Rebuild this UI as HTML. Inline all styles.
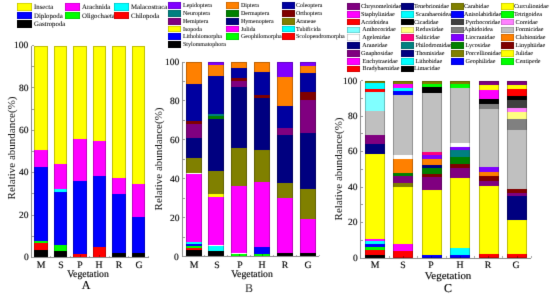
<!DOCTYPE html>
<html><head><meta charset="utf-8"><style>
html,body{margin:0;padding:0;background:#fff;}
body{width:550px;height:298px;position:relative;overflow:hidden;font-family:"Liberation Serif",serif;color:#000;}
.a{position:absolute;}
.bar{position:absolute;box-sizing:border-box;}
.seg{position:absolute;left:0;right:0;}
.t{position:absolute;white-space:pre;line-height:1;will-change:transform;text-rendering:geometricPrecision;-webkit-text-stroke:0.15px #000;}
.yl{position:absolute;white-space:pre;line-height:1;color:#111;}
.lt{-webkit-text-stroke:0.05px #000;}
.sw{position:absolute;box-sizing:border-box;box-shadow:inset 0 0 0 0.6px rgba(0,0,0,0.3);}
</style></head><body><svg width="0" height="0" style="position:absolute"><defs><filter id="sf" x="0" y="0" width="550" height="298" filterUnits="userSpaceOnUse" color-interpolation-filters="sRGB"><feConvolveMatrix order="3" kernelMatrix="0 1 0 1 8 1 0 1 0" edgeMode="duplicate"/></filter></defs></svg><div id="w" style="position:absolute;left:0;top:0;width:550px;height:298px;background:#fff;filter:url(#sf)">

<div class="bar" style="left:34.2px;top:45.5px;width:13.6px;height:212px;">
<div class="seg" style="top:0px;height:104.7px;background:#FFFF00"></div>
<div class="seg" style="top:104.7px;height:16.8px;background:#FF00FF"></div>
<div class="seg" style="top:121.5px;height:74.2px;background:#0000FF"></div>
<div class="seg" style="top:195.7px;height:2.2px;background:#00FF00"></div>
<div class="seg" style="top:197.9px;height:7px;background:#FF0000"></div>
<div class="seg" style="top:204.9px;height:7.1px;background:#000000"></div>
</div>
<div class="a" style="left:34.2px;top:45.5px;width:13.6px;height:212px;box-sizing:border-box;border:0.6px solid rgba(0,0,0,0.25)"></div>
<div class="bar" style="left:53.72px;top:45.5px;width:13.6px;height:212px;">
<div class="seg" style="top:0px;height:118.3px;background:#FFFF00"></div>
<div class="seg" style="top:118.3px;height:25px;background:#FF00FF"></div>
<div class="seg" style="top:143.3px;height:3px;background:#00FFFF"></div>
<div class="seg" style="top:146.3px;height:53.2px;background:#0000FF"></div>
<div class="seg" style="top:199.5px;height:6px;background:#00FF00"></div>
<div class="seg" style="top:205.5px;height:6.5px;background:#000000"></div>
</div>
<div class="a" style="left:53.72px;top:45.5px;width:13.6px;height:212px;box-sizing:border-box;border:0.6px solid rgba(0,0,0,0.25)"></div>
<div class="bar" style="left:73.24px;top:45.5px;width:13.6px;height:212px;">
<div class="seg" style="top:0px;height:93.7px;background:#FFFF00"></div>
<div class="seg" style="top:93.7px;height:42px;background:#FF00FF"></div>
<div class="seg" style="top:135.7px;height:72.8px;background:#0000FF"></div>
<div class="seg" style="top:208.5px;height:3.5px;background:#FF0000"></div>
</div>
<div class="a" style="left:73.24px;top:45.5px;width:13.6px;height:212px;box-sizing:border-box;border:0.6px solid rgba(0,0,0,0.25)"></div>
<div class="bar" style="left:92.76px;top:45.5px;width:13.6px;height:212px;">
<div class="seg" style="top:0px;height:95.5px;background:#FFFF00"></div>
<div class="seg" style="top:95.5px;height:35.2px;background:#FF00FF"></div>
<div class="seg" style="top:130.7px;height:70.8px;background:#0000FF"></div>
<div class="seg" style="top:201.5px;height:10.5px;background:#FF0000"></div>
</div>
<div class="a" style="left:92.76px;top:45.5px;width:13.6px;height:212px;box-sizing:border-box;border:0.6px solid rgba(0,0,0,0.25)"></div>
<div class="bar" style="left:112.28px;top:45.5px;width:13.6px;height:212px;">
<div class="seg" style="top:0px;height:132px;background:#FFFF00"></div>
<div class="seg" style="top:132px;height:16px;background:#FF00FF"></div>
<div class="seg" style="top:148px;height:59.8px;background:#0000FF"></div>
<div class="seg" style="top:207.8px;height:4.2px;background:#000000"></div>
</div>
<div class="a" style="left:112.28px;top:45.5px;width:13.6px;height:212px;box-sizing:border-box;border:0.6px solid rgba(0,0,0,0.25)"></div>
<div class="bar" style="left:131.8px;top:45.5px;width:13.6px;height:212px;">
<div class="seg" style="top:0px;height:138.5px;background:#FFFF00"></div>
<div class="seg" style="top:138.5px;height:32.8px;background:#FF00FF"></div>
<div class="seg" style="top:171.3px;height:36.5px;background:#0000FF"></div>
<div class="seg" style="top:207.8px;height:4.2px;background:#000000"></div>
</div>
<div class="a" style="left:131.8px;top:45.5px;width:13.6px;height:212px;box-sizing:border-box;border:0.6px solid rgba(0,0,0,0.25)"></div>
<div class="bar" style="left:185.5px;top:62px;width:16px;height:194.7px;">
<div class="seg" style="top:0px;height:22px;background:#FF8000"></div>
<div class="seg" style="top:22px;height:37px;background:#0000A0"></div>
<div class="seg" style="top:59px;height:2.5px;background:#800000"></div>
<div class="seg" style="top:61.5px;height:14.7px;background:#800080"></div>
<div class="seg" style="top:76.2px;height:20px;background:#000080"></div>
<div class="seg" style="top:96.2px;height:15.3px;background:#808000"></div>
<div class="seg" style="top:111.5px;height:68px;background:#FF00FF"></div>
<div class="seg" style="top:179.5px;height:2px;background:#00FFFF"></div>
<div class="seg" style="top:181.5px;height:2.3px;background:#0000FF"></div>
<div class="seg" style="top:183.8px;height:2.2px;background:#00FF00"></div>
<div class="seg" style="top:186px;height:2.2px;background:#FF0000"></div>
<div class="seg" style="top:188.2px;height:6.5px;background:#000000"></div>
</div>
<div class="a" style="left:185.5px;top:62px;width:16px;height:194.7px;box-sizing:border-box;border:0.6px solid rgba(0,0,0,0.25)"></div>
<div class="bar" style="left:208.44px;top:62px;width:16px;height:194.7px;">
<div class="seg" style="top:0px;height:3px;background:#8000FF"></div>
<div class="seg" style="top:3px;height:11px;background:#FF8000"></div>
<div class="seg" style="top:14px;height:37.8px;background:#0000A0"></div>
<div class="seg" style="top:51.8px;height:2.4px;background:#008080"></div>
<div class="seg" style="top:54.2px;height:2.8px;background:#008000"></div>
<div class="seg" style="top:57px;height:51.8px;background:#000080"></div>
<div class="seg" style="top:108.8px;height:23px;background:#808000"></div>
<div class="seg" style="top:131.8px;height:3px;background:#FFFF00"></div>
<div class="seg" style="top:134.8px;height:48.7px;background:#FF00FF"></div>
<div class="seg" style="top:183.5px;height:5.3px;background:#00FFFF"></div>
<div class="seg" style="top:188.8px;height:5.9px;background:#000000"></div>
</div>
<div class="a" style="left:208.44px;top:62px;width:16px;height:194.7px;box-sizing:border-box;border:0.6px solid rgba(0,0,0,0.25)"></div>
<div class="bar" style="left:231.38px;top:62px;width:16px;height:194.7px;">
<div class="seg" style="top:0px;height:6px;background:#FF8000"></div>
<div class="seg" style="top:6px;height:10px;background:#0000A0"></div>
<div class="seg" style="top:16px;height:3px;background:#800000"></div>
<div class="seg" style="top:19px;height:6.2px;background:#800080"></div>
<div class="seg" style="top:25.2px;height:60.8px;background:#000080"></div>
<div class="seg" style="top:86px;height:38.2px;background:#808000"></div>
<div class="seg" style="top:124.2px;height:67.3px;background:#FF00FF"></div>
<div class="seg" style="top:191.5px;height:3.2px;background:#00FF00"></div>
</div>
<div class="a" style="left:231.38px;top:62px;width:16px;height:194.7px;box-sizing:border-box;border:0.6px solid rgba(0,0,0,0.25)"></div>
<div class="bar" style="left:254.32px;top:62px;width:16px;height:194.7px;">
<div class="seg" style="top:0px;height:9.5px;background:#FF8000"></div>
<div class="seg" style="top:9.5px;height:23px;background:#0000A0"></div>
<div class="seg" style="top:32.5px;height:3px;background:#800000"></div>
<div class="seg" style="top:35.5px;height:52px;background:#000080"></div>
<div class="seg" style="top:87.5px;height:32.3px;background:#808000"></div>
<div class="seg" style="top:119.8px;height:65.2px;background:#FF00FF"></div>
<div class="seg" style="top:185px;height:6.5px;background:#0000FF"></div>
<div class="seg" style="top:191.5px;height:3.2px;background:#00FF00"></div>
</div>
<div class="a" style="left:254.32px;top:62px;width:16px;height:194.7px;box-sizing:border-box;border:0.6px solid rgba(0,0,0,0.25)"></div>
<div class="bar" style="left:277.26px;top:62px;width:16px;height:194.7px;">
<div class="seg" style="top:0px;height:14.8px;background:#8000FF"></div>
<div class="seg" style="top:14.8px;height:29px;background:#FF8000"></div>
<div class="seg" style="top:43.8px;height:22.4px;background:#0000A0"></div>
<div class="seg" style="top:66.2px;height:7px;background:#800080"></div>
<div class="seg" style="top:73.2px;height:48px;background:#000080"></div>
<div class="seg" style="top:121.2px;height:14.6px;background:#808000"></div>
<div class="seg" style="top:135.8px;height:55.4px;background:#FF00FF"></div>
<div class="seg" style="top:191.2px;height:3.5px;background:#000000"></div>
</div>
<div class="a" style="left:277.26px;top:62px;width:16px;height:194.7px;box-sizing:border-box;border:0.6px solid rgba(0,0,0,0.25)"></div>
<div class="bar" style="left:300.2px;top:62px;width:16px;height:194.7px;">
<div class="seg" style="top:0px;height:3.8px;background:#8000FF"></div>
<div class="seg" style="top:3.8px;height:7.4px;background:#FF8000"></div>
<div class="seg" style="top:11.2px;height:18.8px;background:#0000A0"></div>
<div class="seg" style="top:30px;height:7.5px;background:#800000"></div>
<div class="seg" style="top:37.5px;height:33.7px;background:#800080"></div>
<div class="seg" style="top:71.2px;height:56px;background:#000080"></div>
<div class="seg" style="top:127.2px;height:30px;background:#808000"></div>
<div class="seg" style="top:157.2px;height:34px;background:#FF00FF"></div>
<div class="seg" style="top:191.2px;height:3.5px;background:#000000"></div>
</div>
<div class="a" style="left:300.2px;top:62px;width:16px;height:194.7px;box-sizing:border-box;border:0.6px solid rgba(0,0,0,0.25)"></div>
<div class="bar" style="left:365px;top:80.8px;width:20px;height:177px;">
<div class="seg" style="top:0px;height:2.7px;background:#808000"></div>
<div class="seg" style="top:2.7px;height:5.5px;background:#00FFFF"></div>
<div class="seg" style="top:8.2px;height:2.8px;background:#FF0000"></div>
<div class="seg" style="top:11px;height:19.2px;background:#80FFFF"></div>
<div class="seg" style="top:30.2px;height:24px;background:#C0C0C0"></div>
<div class="seg" style="top:54.2px;height:8.7px;background:#800080"></div>
<div class="seg" style="top:62.9px;height:10.8px;background:#000080"></div>
<div class="seg" style="top:73.7px;height:84.5px;background:#FFFF00"></div>
<div class="seg" style="top:158.2px;height:2.5px;background:#FF00FF"></div>
<div class="seg" style="top:160.7px;height:3px;background:#00FFFF"></div>
<div class="seg" style="top:163.7px;height:2.7px;background:#0000FF"></div>
<div class="seg" style="top:166.4px;height:2.8px;background:#00FF00"></div>
<div class="seg" style="top:169.2px;height:5.5px;background:#FF0000"></div>
<div class="seg" style="top:174.7px;height:2.3px;background:#000000"></div>
</div>
<div class="a" style="left:365px;top:80.8px;width:20px;height:177px;box-sizing:border-box;border:0.6px solid rgba(0,0,0,0.25)"></div>
<div class="bar" style="left:393.4px;top:80.8px;width:20px;height:177px;">
<div class="seg" style="top:0px;height:3.4px;background:#808000"></div>
<div class="seg" style="top:3.4px;height:3.5px;background:#FF00FF"></div>
<div class="seg" style="top:6.9px;height:3.3px;background:#00FFFF"></div>
<div class="seg" style="top:10.2px;height:3.8px;background:#0000FF"></div>
<div class="seg" style="top:14px;height:60.4px;background:#C0C0C0"></div>
<div class="seg" style="top:74.4px;height:3.8px;background:#FFFFFF"></div>
<div class="seg" style="top:78.2px;height:14px;background:#FF8000"></div>
<div class="seg" style="top:92.2px;height:3.5px;background:#008000"></div>
<div class="seg" style="top:95.7px;height:6.5px;background:#800080"></div>
<div class="seg" style="top:102.2px;height:3.8px;background:#808000"></div>
<div class="seg" style="top:106px;height:57.7px;background:#FFFF00"></div>
<div class="seg" style="top:163.7px;height:6.7px;background:#FF00FF"></div>
<div class="seg" style="top:170.4px;height:6.6px;background:#FF0000"></div>
</div>
<div class="a" style="left:393.4px;top:80.8px;width:20px;height:177px;box-sizing:border-box;border:0.6px solid rgba(0,0,0,0.25)"></div>
<div class="bar" style="left:421.8px;top:80.8px;width:20px;height:177px;">
<div class="seg" style="top:0px;height:3px;background:#808000"></div>
<div class="seg" style="top:3px;height:3.4px;background:#00FF00"></div>
<div class="seg" style="top:6.4px;height:6.3px;background:#000000"></div>
<div class="seg" style="top:12.7px;height:58.7px;background:#C0C0C0"></div>
<div class="seg" style="top:71.4px;height:3.3px;background:#FF0080"></div>
<div class="seg" style="top:74.7px;height:3.2px;background:#8000FF"></div>
<div class="seg" style="top:77.9px;height:6.1px;background:#FF8000"></div>
<div class="seg" style="top:84px;height:3.2px;background:#000080"></div>
<div class="seg" style="top:87.2px;height:6.2px;background:#008000"></div>
<div class="seg" style="top:93.4px;height:3px;background:#800000"></div>
<div class="seg" style="top:96.4px;height:12.6px;background:#800080"></div>
<div class="seg" style="top:109px;height:65.2px;background:#FFFF00"></div>
<div class="seg" style="top:174.2px;height:2.8px;background:#0000FF"></div>
</div>
<div class="a" style="left:421.8px;top:80.8px;width:20px;height:177px;box-sizing:border-box;border:0.6px solid rgba(0,0,0,0.25)"></div>
<div class="bar" style="left:450.2px;top:80.8px;width:20px;height:177px;">
<div class="seg" style="top:0px;height:3.7px;background:#808000"></div>
<div class="seg" style="top:3.7px;height:3.3px;background:#00FF00"></div>
<div class="seg" style="top:7px;height:55.7px;background:#C0C0C0"></div>
<div class="seg" style="top:62.7px;height:3.5px;background:#FFFFFF"></div>
<div class="seg" style="top:66.2px;height:3.5px;background:#8000FF"></div>
<div class="seg" style="top:69.7px;height:7px;background:#008080"></div>
<div class="seg" style="top:76.7px;height:7px;background:#008000"></div>
<div class="seg" style="top:83.7px;height:3.3px;background:#800000"></div>
<div class="seg" style="top:87px;height:10.4px;background:#800080"></div>
<div class="seg" style="top:97.4px;height:69.6px;background:#FFFF00"></div>
<div class="seg" style="top:167px;height:7px;background:#00FFFF"></div>
<div class="seg" style="top:174px;height:3px;background:#0000FF"></div>
</div>
<div class="a" style="left:450.2px;top:80.8px;width:20px;height:177px;box-sizing:border-box;border:0.6px solid rgba(0,0,0,0.25)"></div>
<div class="bar" style="left:478.6px;top:80.8px;width:20px;height:177px;">
<div class="seg" style="top:0px;height:4.7px;background:#800080"></div>
<div class="seg" style="top:4.7px;height:4.5px;background:#FFFF00"></div>
<div class="seg" style="top:9.2px;height:9px;background:#FF00FF"></div>
<div class="seg" style="top:18.2px;height:4.9px;background:#000000"></div>
<div class="seg" style="top:23.1px;height:4.7px;background:#808080"></div>
<div class="seg" style="top:27.8px;height:58.6px;background:#C0C0C0"></div>
<div class="seg" style="top:86.4px;height:4.8px;background:#8000FF"></div>
<div class="seg" style="top:91.2px;height:4.4px;background:#FF8000"></div>
<div class="seg" style="top:95.6px;height:4.4px;background:#800000"></div>
<div class="seg" style="top:100px;height:4.9px;background:#800080"></div>
<div class="seg" style="top:104.9px;height:67.9px;background:#FFFF00"></div>
<div class="seg" style="top:172.8px;height:4.2px;background:#FF0000"></div>
</div>
<div class="a" style="left:478.6px;top:80.8px;width:20px;height:177px;box-sizing:border-box;border:0.6px solid rgba(0,0,0,0.25)"></div>
<div class="bar" style="left:507px;top:80.8px;width:20px;height:177px;">
<div class="seg" style="top:0px;height:4px;background:#800080"></div>
<div class="seg" style="top:4px;height:4px;background:#FFFF00"></div>
<div class="seg" style="top:8px;height:7.7px;background:#FF0000"></div>
<div class="seg" style="top:15.7px;height:3.7px;background:#000000"></div>
<div class="seg" style="top:19.4px;height:7.8px;background:#404040"></div>
<div class="seg" style="top:27.2px;height:3.6px;background:#FF80FF"></div>
<div class="seg" style="top:30.8px;height:7.8px;background:#FFFF80"></div>
<div class="seg" style="top:38.6px;height:11px;background:#808080"></div>
<div class="seg" style="top:49.6px;height:58.4px;background:#C0C0C0"></div>
<div class="seg" style="top:108px;height:4.1px;background:#800000"></div>
<div class="seg" style="top:112.1px;height:3.3px;background:#800080"></div>
<div class="seg" style="top:115.4px;height:23.4px;background:#000080"></div>
<div class="seg" style="top:138.8px;height:34.4px;background:#FFFF00"></div>
<div class="seg" style="top:173.2px;height:3.8px;background:#FF0000"></div>
</div>
<div class="a" style="left:507px;top:80.8px;width:20px;height:177px;box-sizing:border-box;border:0.6px solid rgba(0,0,0,0.25)"></div>
<div class="a" style="left:31px;top:45.5px;width:1px;height:212.5px;background:#8c8c8c"></div>
<div class="a" style="left:31px;top:257px;width:117.5px;height:1px;background:#8c8c8c"></div>
<div class="a" style="left:32px;top:257px;width:2.2px;height:1px;background:#9a9a9a"></div>
<div class="a" style="left:32px;top:235.8px;width:1.6px;height:1px;background:#9a9a9a"></div>
<div class="a" style="left:32px;top:214.6px;width:2.2px;height:1px;background:#9a9a9a"></div>
<div class="a" style="left:32px;top:193.4px;width:1.6px;height:1px;background:#9a9a9a"></div>
<div class="a" style="left:32px;top:172.2px;width:2.2px;height:1px;background:#9a9a9a"></div>
<div class="a" style="left:32px;top:151px;width:1.6px;height:1px;background:#9a9a9a"></div>
<div class="a" style="left:32px;top:129.8px;width:2.2px;height:1px;background:#9a9a9a"></div>
<div class="a" style="left:32px;top:108.6px;width:1.6px;height:1px;background:#9a9a9a"></div>
<div class="a" style="left:32px;top:87.4px;width:2.2px;height:1px;background:#9a9a9a"></div>
<div class="a" style="left:32px;top:66.2px;width:1.6px;height:1px;background:#9a9a9a"></div>
<div class="a" style="left:32px;top:45px;width:2.2px;height:1px;background:#9a9a9a"></div>
<div class="a" style="left:40.5px;top:255px;width:1px;height:2px;background:rgba(0,0,0,0.35)"></div>
<div class="a" style="left:50.26px;top:255.5px;width:1px;height:1.5px;background:#aaa"></div>
<div class="a" style="left:60.02px;top:255px;width:1px;height:2px;background:rgba(0,0,0,0.35)"></div>
<div class="a" style="left:69.78px;top:255.5px;width:1px;height:1.5px;background:#aaa"></div>
<div class="a" style="left:79.54px;top:255px;width:1px;height:2px;background:rgba(0,0,0,0.35)"></div>
<div class="a" style="left:89.3px;top:255.5px;width:1px;height:1.5px;background:#aaa"></div>
<div class="a" style="left:99.06px;top:255px;width:1px;height:2px;background:rgba(0,0,0,0.35)"></div>
<div class="a" style="left:108.82px;top:255.5px;width:1px;height:1.5px;background:#aaa"></div>
<div class="a" style="left:118.58px;top:255px;width:1px;height:2px;background:rgba(0,0,0,0.35)"></div>
<div class="a" style="left:128.34px;top:255.5px;width:1px;height:1.5px;background:#aaa"></div>
<div class="a" style="left:138.1px;top:255px;width:1px;height:2px;background:rgba(0,0,0,0.35)"></div>
<div class="a" style="left:147.86px;top:255.5px;width:1px;height:1.5px;background:#aaa"></div>
<div class="t" style="right:521.7px;top:254.25px;font-size:9.5px;">0</div>
<div class="t" style="right:521.7px;top:211.85px;font-size:9.5px;">20</div>
<div class="t" style="right:521.7px;top:169.45px;font-size:9.5px;">40</div>
<div class="t" style="right:521.7px;top:127.05px;font-size:9.5px;">60</div>
<div class="t" style="right:521.7px;top:84.65px;font-size:9.5px;">80</div>
<div class="t" style="right:521.7px;top:42.25px;font-size:9.5px;">100</div>
<div class="yl" style="left:11px;top:148.2px;font-size:11px;transform:translate(-50%,-50%) rotate(-90deg);">Relative abundance(%)</div>
<div class="t" style="left:41px;top:261.4px;font-size:9.8px;transform:translateX(-50%);">M</div>
<div class="t" style="left:60.5px;top:261.4px;font-size:9.8px;transform:translateX(-50%);">S</div>
<div class="t" style="left:79.8px;top:261.4px;font-size:9.8px;transform:translateX(-50%);">P</div>
<div class="t" style="left:99px;top:261.4px;font-size:9.8px;transform:translateX(-50%);">H</div>
<div class="t" style="left:119px;top:261.4px;font-size:9.8px;transform:translateX(-50%);">R</div>
<div class="t" style="left:138.7px;top:261.4px;font-size:9.8px;transform:translateX(-50%);">G</div>
<div class="t" style="left:88px;top:270.3px;font-size:9.75px;transform:translateX(-50%) scaleX(1);">Vegetation</div>
<div class="t" style="left:85.8px;top:279px;font-size:12px;transform:translateX(-50%);">A</div>
<div class="a" style="left:182px;top:62px;width:1px;height:195.3px;background:#8c8c8c"></div>
<div class="a" style="left:182px;top:256.3px;width:137px;height:1px;background:#8c8c8c"></div>
<div class="a" style="left:183px;top:256.3px;width:2.2px;height:1px;background:#9a9a9a"></div>
<div class="a" style="left:183px;top:236.82px;width:1.6px;height:1px;background:#9a9a9a"></div>
<div class="a" style="left:183px;top:217.34px;width:2.2px;height:1px;background:#9a9a9a"></div>
<div class="a" style="left:183px;top:197.86px;width:1.6px;height:1px;background:#9a9a9a"></div>
<div class="a" style="left:183px;top:178.38px;width:2.2px;height:1px;background:#9a9a9a"></div>
<div class="a" style="left:183px;top:158.9px;width:1.6px;height:1px;background:#9a9a9a"></div>
<div class="a" style="left:183px;top:139.42px;width:2.2px;height:1px;background:#9a9a9a"></div>
<div class="a" style="left:183px;top:119.94px;width:1.6px;height:1px;background:#9a9a9a"></div>
<div class="a" style="left:183px;top:100.46px;width:2.2px;height:1px;background:#9a9a9a"></div>
<div class="a" style="left:183px;top:80.98px;width:1.6px;height:1px;background:#9a9a9a"></div>
<div class="a" style="left:183px;top:61.5px;width:2.2px;height:1px;background:#9a9a9a"></div>
<div class="a" style="left:193px;top:254.3px;width:1px;height:2px;background:rgba(0,0,0,0.35)"></div>
<div class="a" style="left:204.47px;top:254.8px;width:1px;height:1.5px;background:#aaa"></div>
<div class="a" style="left:215.94px;top:254.3px;width:1px;height:2px;background:rgba(0,0,0,0.35)"></div>
<div class="a" style="left:227.41px;top:254.8px;width:1px;height:1.5px;background:#aaa"></div>
<div class="a" style="left:238.88px;top:254.3px;width:1px;height:2px;background:rgba(0,0,0,0.35)"></div>
<div class="a" style="left:250.35px;top:254.8px;width:1px;height:1.5px;background:#aaa"></div>
<div class="a" style="left:261.82px;top:254.3px;width:1px;height:2px;background:rgba(0,0,0,0.35)"></div>
<div class="a" style="left:273.29px;top:254.8px;width:1px;height:1.5px;background:#aaa"></div>
<div class="a" style="left:284.76px;top:254.3px;width:1px;height:2px;background:rgba(0,0,0,0.35)"></div>
<div class="a" style="left:296.23px;top:254.8px;width:1px;height:1.5px;background:#aaa"></div>
<div class="a" style="left:307.7px;top:254.3px;width:1px;height:2px;background:rgba(0,0,0,0.35)"></div>
<div class="a" style="left:319.17px;top:254.8px;width:1px;height:1.5px;background:#aaa"></div>
<div class="t" style="right:371px;top:253.55px;font-size:9.5px;">0</div>
<div class="t" style="right:371px;top:214.59px;font-size:9.5px;">20</div>
<div class="t" style="right:371px;top:175.63px;font-size:9.5px;">40</div>
<div class="t" style="right:371px;top:136.67px;font-size:9.5px;">60</div>
<div class="t" style="right:371px;top:97.71px;font-size:9.5px;">80</div>
<div class="t" style="right:371px;top:58.75px;font-size:9.5px;">100</div>
<div class="yl" style="left:158px;top:159px;font-size:11px;transform:translate(-50%,-50%) rotate(-90deg);">Relative abundance(%)</div>
<div class="t" style="left:193.6px;top:261.4px;font-size:9.8px;transform:translateX(-50%);">M</div>
<div class="t" style="left:216.8px;top:261.4px;font-size:9.8px;transform:translateX(-50%);">S</div>
<div class="t" style="left:239.5px;top:261.4px;font-size:9.8px;transform:translateX(-50%);">P</div>
<div class="t" style="left:262.4px;top:261.4px;font-size:9.8px;transform:translateX(-50%);">H</div>
<div class="t" style="left:285px;top:261.4px;font-size:9.8px;transform:translateX(-50%);">R</div>
<div class="t" style="left:307.6px;top:261.4px;font-size:9.8px;transform:translateX(-50%);">G</div>
<div class="t" style="left:252.2px;top:269.8px;font-size:9.75px;transform:translateX(-50%) scaleX(1);">Vegetation</div>
<div class="t" style="left:249.4px;top:281.5px;font-size:12px;transform:translateX(-50%);-webkit-text-stroke:0;color:#333;">B</div>
<div class="a" style="left:360.1px;top:80.8px;width:1px;height:177.7px;background:#8c8c8c"></div>
<div class="a" style="left:360.1px;top:257.5px;width:170.9px;height:1px;background:#8c8c8c"></div>
<div class="a" style="left:361.1px;top:257.5px;width:2.2px;height:1px;background:#9a9a9a"></div>
<div class="a" style="left:361.1px;top:239.78px;width:1.6px;height:1px;background:#9a9a9a"></div>
<div class="a" style="left:361.1px;top:222.06px;width:2.2px;height:1px;background:#9a9a9a"></div>
<div class="a" style="left:361.1px;top:204.34px;width:1.6px;height:1px;background:#9a9a9a"></div>
<div class="a" style="left:361.1px;top:186.62px;width:2.2px;height:1px;background:#9a9a9a"></div>
<div class="a" style="left:361.1px;top:168.9px;width:1.6px;height:1px;background:#9a9a9a"></div>
<div class="a" style="left:361.1px;top:151.18px;width:2.2px;height:1px;background:#9a9a9a"></div>
<div class="a" style="left:361.1px;top:133.46px;width:1.6px;height:1px;background:#9a9a9a"></div>
<div class="a" style="left:361.1px;top:115.74px;width:2.2px;height:1px;background:#9a9a9a"></div>
<div class="a" style="left:361.1px;top:98.02px;width:1.6px;height:1px;background:#9a9a9a"></div>
<div class="a" style="left:361.1px;top:80.3px;width:2.2px;height:1px;background:#9a9a9a"></div>
<div class="a" style="left:374.5px;top:255.5px;width:1px;height:2px;background:rgba(0,0,0,0.35)"></div>
<div class="a" style="left:388.7px;top:256px;width:1px;height:1.5px;background:#aaa"></div>
<div class="a" style="left:402.9px;top:255.5px;width:1px;height:2px;background:rgba(0,0,0,0.35)"></div>
<div class="a" style="left:417.1px;top:256px;width:1px;height:1.5px;background:#aaa"></div>
<div class="a" style="left:431.3px;top:255.5px;width:1px;height:2px;background:rgba(0,0,0,0.35)"></div>
<div class="a" style="left:445.5px;top:256px;width:1px;height:1.5px;background:#aaa"></div>
<div class="a" style="left:459.7px;top:255.5px;width:1px;height:2px;background:rgba(0,0,0,0.35)"></div>
<div class="a" style="left:473.9px;top:256px;width:1px;height:1.5px;background:#aaa"></div>
<div class="a" style="left:488.1px;top:255.5px;width:1px;height:2px;background:rgba(0,0,0,0.35)"></div>
<div class="a" style="left:502.3px;top:256px;width:1px;height:1.5px;background:#aaa"></div>
<div class="a" style="left:516.5px;top:255.5px;width:1px;height:2px;background:rgba(0,0,0,0.35)"></div>
<div class="a" style="left:530.7px;top:256px;width:1px;height:1.5px;background:#aaa"></div>
<div class="t" style="right:192.3px;top:254.75px;font-size:9.5px;">0</div>
<div class="t" style="right:192.3px;top:219.31px;font-size:9.5px;">20</div>
<div class="t" style="right:192.3px;top:183.87px;font-size:9.5px;">40</div>
<div class="t" style="right:192.3px;top:148.43px;font-size:9.5px;">60</div>
<div class="t" style="right:192.3px;top:112.99px;font-size:9.5px;">80</div>
<div class="t" style="right:192.3px;top:77.55px;font-size:9.5px;">100</div>
<div class="yl" style="left:337.5px;top:169.4px;font-size:11px;transform:translate(-50%,-50%) rotate(-90deg);">Relative abundance(%)</div>
<div class="t" style="left:375.3px;top:261.4px;font-size:9.8px;transform:translateX(-50%);">M</div>
<div class="t" style="left:403.4px;top:261.4px;font-size:9.8px;transform:translateX(-50%);">S</div>
<div class="t" style="left:431.2px;top:261.4px;font-size:9.8px;transform:translateX(-50%);">P</div>
<div class="t" style="left:459.7px;top:261.4px;font-size:9.8px;transform:translateX(-50%);">H</div>
<div class="t" style="left:487.9px;top:261.4px;font-size:9.8px;transform:translateX(-50%);">R</div>
<div class="t" style="left:516.3px;top:261.4px;font-size:9.8px;transform:translateX(-50%);">G</div>
<div class="t" style="left:448.2px;top:272px;font-size:10.3px;transform:translateX(-50%) scaleX(1.06);">Vegetation</div>
<div class="t" style="left:448.2px;top:281.5px;font-size:12px;transform:translateX(-50%);">C</div>
<div class="sw" style="left:16.9px;top:3px;width:15.1px;height:7.6px;background:#FFFF00"></div>
<div class="t lt" style="left:34px;top:5.4px;font-size:6.8px;">Insecta</div>
<div class="sw" style="left:16.9px;top:11.5px;width:15.1px;height:7.6px;background:#0000FF"></div>
<div class="t lt" style="left:34px;top:13.9px;font-size:6.8px;">Diplopoda</div>
<div class="sw" style="left:16.9px;top:20px;width:15.1px;height:7.6px;background:#000000"></div>
<div class="t lt" style="left:34px;top:22.4px;font-size:6.8px;">Gastropoda</div>
<div class="sw" style="left:64.8px;top:3px;width:15.1px;height:7.6px;background:#FF00FF"></div>
<div class="t lt" style="left:81.8px;top:5.4px;font-size:6.8px;">Arachnida</div>
<div class="sw" style="left:64.8px;top:11.5px;width:15.1px;height:7.6px;background:#00FF00"></div>
<div class="t lt" style="left:81.8px;top:13.9px;font-size:6.8px;">Oligochaeta</div>
<div class="sw" style="left:113.8px;top:3px;width:15.1px;height:7.6px;background:#00FFFF"></div>
<div class="t lt" style="left:130.8px;top:5.4px;font-size:6.8px;">Malacostraca</div>
<div class="sw" style="left:113.8px;top:11.5px;width:15.1px;height:7.6px;background:#FF0000"></div>
<div class="t lt" style="left:130.8px;top:13.9px;font-size:6.8px;">Chilopoda</div>
<div class="sw" style="left:168px;top:2.2px;width:13px;height:6.7px;background:#8000FF"></div>
<div class="t lt" style="left:183px;top:3.15px;font-size:6.0px;">Lepidoptera</div>
<div class="sw" style="left:168px;top:10.02px;width:13px;height:6.7px;background:#008080"></div>
<div class="t lt" style="left:183px;top:10.97px;font-size:6.0px;">Neuroptera</div>
<div class="sw" style="left:168px;top:17.84px;width:13px;height:6.7px;background:#800080"></div>
<div class="t lt" style="left:183px;top:18.79px;font-size:6.0px;">Hemiptera</div>
<div class="sw" style="left:168px;top:25.66px;width:13px;height:6.7px;background:#FFFF00"></div>
<div class="t lt" style="left:183px;top:26.61px;font-size:6.0px;">Isopoda</div>
<div class="sw" style="left:168px;top:33.48px;width:13px;height:6.7px;background:#0000FF"></div>
<div class="t lt" style="left:183px;top:34.43px;font-size:6.0px;">Lithobiomorpha</div>
<div class="sw" style="left:168px;top:41.3px;width:13px;height:6.7px;background:#000000"></div>
<div class="t lt" style="left:183px;top:42.25px;font-size:6.0px;">Stylommatophora</div>
<div class="sw" style="left:226px;top:2.2px;width:13px;height:6.7px;background:#FF8000"></div>
<div class="t lt" style="left:241px;top:3.15px;font-size:6.0px;">Diptera</div>
<div class="sw" style="left:226px;top:10.02px;width:13px;height:6.7px;background:#008000"></div>
<div class="t lt" style="left:241px;top:10.97px;font-size:6.0px;">Dermaptera</div>
<div class="sw" style="left:226px;top:17.84px;width:13px;height:6.7px;background:#000080"></div>
<div class="t lt" style="left:241px;top:18.79px;font-size:6.0px;">Hymenoptera</div>
<div class="sw" style="left:226px;top:25.66px;width:13px;height:6.7px;background:#FF00FF"></div>
<div class="t lt" style="left:241px;top:26.61px;font-size:6.0px;">Julida</div>
<div class="sw" style="left:226px;top:33.48px;width:13px;height:6.7px;background:#00FF00"></div>
<div class="t lt" style="left:241px;top:34.43px;font-size:6.0px;">Geophilomorpha</div>
<div class="sw" style="left:281.5px;top:2.2px;width:13px;height:6.7px;background:#0000A0"></div>
<div class="t lt" style="left:296.4px;top:3.15px;font-size:6.0px;">Coleoptera</div>
<div class="sw" style="left:281.5px;top:10.02px;width:13px;height:6.7px;background:#800000"></div>
<div class="t lt" style="left:296.4px;top:10.97px;font-size:6.0px;">Orthoptera</div>
<div class="sw" style="left:281.5px;top:17.84px;width:13px;height:6.7px;background:#808000"></div>
<div class="t lt" style="left:296.4px;top:18.79px;font-size:6.0px;">Araneae</div>
<div class="sw" style="left:281.5px;top:25.66px;width:13px;height:6.7px;background:#00FFFF"></div>
<div class="t lt" style="left:296.4px;top:26.61px;font-size:6.0px;">Tubificida</div>
<div class="sw" style="left:281.5px;top:33.48px;width:13px;height:6.7px;background:#FF0000"></div>
<div class="t lt" style="left:296.4px;top:34.43px;font-size:6.0px;">Scolopendromorpha</div>
<div class="sw" style="left:347px;top:3.2px;width:13.2px;height:6.6px;background:#800080"></div>
<div class="t lt" style="left:360.8px;top:3.92px;font-size:6.15px;">Chrysomeloidae</div>
<div class="sw" style="left:347px;top:11.02px;width:13.2px;height:6.6px;background:#FF00FF"></div>
<div class="t lt" style="left:360.8px;top:11.75px;font-size:6.15px;">Staphylinidae</div>
<div class="sw" style="left:347px;top:18.84px;width:13.2px;height:6.6px;background:#FF0000"></div>
<div class="t lt" style="left:360.8px;top:19.57px;font-size:6.15px;">Acridoidea</div>
<div class="sw" style="left:347px;top:26.66px;width:13.2px;height:6.6px;background:#80FFFF"></div>
<div class="t lt" style="left:360.8px;top:27.39px;font-size:6.15px;"> Anthocoridae</div>
<div class="sw" style="left:347px;top:34.48px;width:13.2px;height:6.6px;background:#FFFFFF"></div>
<div class="t lt" style="left:360.8px;top:35.2px;font-size:6.15px;"> Agelenidae</div>
<div class="sw" style="left:347px;top:42.3px;width:13.2px;height:6.6px;background:#000080"></div>
<div class="t lt" style="left:360.8px;top:43.02px;font-size:6.15px;"> Araneidae</div>
<div class="sw" style="left:347px;top:50.12px;width:13.2px;height:6.6px;background:#800080"></div>
<div class="t lt" style="left:360.8px;top:50.84px;font-size:6.15px;">Gnaphosidae</div>
<div class="sw" style="left:347px;top:57.94px;width:13.2px;height:6.6px;background:#FF00FF"></div>
<div class="t lt" style="left:360.8px;top:58.66px;font-size:6.15px;"> Enchytraeidae</div>
<div class="sw" style="left:347px;top:65.76px;width:13.2px;height:6.6px;background:#FF0000"></div>
<div class="t lt" style="left:360.8px;top:66.48px;font-size:6.15px;"> Bradybaenidae</div>
<div class="sw" style="left:400.5px;top:3.2px;width:13.2px;height:6.6px;background:#000080"></div>
<div class="t lt" style="left:413.6px;top:3.92px;font-size:6.15px;">Tenebrionidae</div>
<div class="sw" style="left:400.5px;top:11.02px;width:13.2px;height:6.6px;background:#00FFFF"></div>
<div class="t lt" style="left:413.6px;top:11.75px;font-size:6.15px;"> Scarabaeoidea</div>
<div class="sw" style="left:400.5px;top:18.84px;width:13.2px;height:6.6px;background:#000000"></div>
<div class="t lt" style="left:413.6px;top:19.57px;font-size:6.15px;">Cicadidae</div>
<div class="sw" style="left:400.5px;top:26.66px;width:13.2px;height:6.6px;background:#FFFF80"></div>
<div class="t lt" style="left:413.6px;top:27.39px;font-size:6.15px;"> Reduviidae</div>
<div class="sw" style="left:400.5px;top:34.48px;width:13.2px;height:6.6px;background:#FF0080"></div>
<div class="t lt" style="left:413.6px;top:35.2px;font-size:6.15px;"> Salticidae</div>
<div class="sw" style="left:400.5px;top:42.3px;width:13.2px;height:6.6px;background:#008080"></div>
<div class="t lt" style="left:413.6px;top:43.02px;font-size:6.15px;"> Philodromidae</div>
<div class="sw" style="left:400.5px;top:50.12px;width:13.2px;height:6.6px;background:#000080"></div>
<div class="t lt" style="left:413.6px;top:50.84px;font-size:6.15px;"> Thomisidae</div>
<div class="sw" style="left:400.5px;top:57.94px;width:13.2px;height:6.6px;background:#00FFFF"></div>
<div class="t lt" style="left:413.6px;top:58.66px;font-size:6.15px;"> Lithobidae</div>
<div class="sw" style="left:400.5px;top:65.76px;width:13.2px;height:6.6px;background:#000000"></div>
<div class="t lt" style="left:413.6px;top:66.48px;font-size:6.15px;">Limacidae</div>
<div class="sw" style="left:450.6px;top:3.2px;width:13.2px;height:6.6px;background:#808000"></div>
<div class="t lt" style="left:464.2px;top:3.92px;font-size:6.15px;">Carabidae</div>
<div class="sw" style="left:450.6px;top:11.02px;width:13.2px;height:6.6px;background:#0000FF"></div>
<div class="t lt" style="left:464.2px;top:11.75px;font-size:6.15px;">Anisolabididae</div>
<div class="sw" style="left:450.6px;top:18.84px;width:13.2px;height:6.6px;background:#404040"></div>
<div class="t lt" style="left:464.2px;top:19.57px;font-size:6.15px;"> Pyrrhocoridae</div>
<div class="sw" style="left:450.6px;top:26.66px;width:13.2px;height:6.6px;background:#808080"></div>
<div class="t lt" style="left:464.2px;top:27.39px;font-size:6.15px;">Aphidoidea</div>
<div class="sw" style="left:450.6px;top:34.48px;width:13.2px;height:6.6px;background:#8000FF"></div>
<div class="t lt" style="left:464.2px;top:35.2px;font-size:6.15px;"> Liocranidae</div>
<div class="sw" style="left:450.6px;top:42.3px;width:13.2px;height:6.6px;background:#008000"></div>
<div class="t lt" style="left:464.2px;top:43.02px;font-size:6.15px;"> Lycosidae</div>
<div class="sw" style="left:450.6px;top:50.12px;width:13.2px;height:6.6px;background:#808000"></div>
<div class="t lt" style="left:464.2px;top:50.84px;font-size:6.15px;"> Porcellionidae</div>
<div class="sw" style="left:450.6px;top:57.94px;width:13.2px;height:6.6px;background:#0000FF"></div>
<div class="t lt" style="left:464.2px;top:58.66px;font-size:6.15px;"> Geophilidae</div>
<div class="sw" style="left:500.6px;top:3.2px;width:13.2px;height:6.6px;background:#FFFF00"></div>
<div class="t lt" style="left:514.2px;top:3.92px;font-size:6.15px;">Curculionidae</div>
<div class="sw" style="left:500.6px;top:11.02px;width:13.2px;height:6.6px;background:#00FF00"></div>
<div class="t lt" style="left:514.2px;top:11.75px;font-size:6.15px;">Tetrigoidea</div>
<div class="sw" style="left:500.6px;top:18.84px;width:13.2px;height:6.6px;background:#FF80FF"></div>
<div class="t lt" style="left:514.2px;top:19.57px;font-size:6.15px;"> Coreidae</div>
<div class="sw" style="left:500.6px;top:26.66px;width:13.2px;height:6.6px;background:#C0C0C0"></div>
<div class="t lt" style="left:514.2px;top:27.39px;font-size:6.15px;"> Formicidae</div>
<div class="sw" style="left:500.6px;top:34.48px;width:13.2px;height:6.6px;background:#FF8000"></div>
<div class="t lt" style="left:514.2px;top:35.2px;font-size:6.15px;"> Clubionidae</div>
<div class="sw" style="left:500.6px;top:42.3px;width:13.2px;height:6.6px;background:#800000"></div>
<div class="t lt" style="left:514.2px;top:43.02px;font-size:6.15px;"> Linyphiidae</div>
<div class="sw" style="left:500.6px;top:50.12px;width:13.2px;height:6.6px;background:#FFFF00"></div>
<div class="t lt" style="left:514.2px;top:50.84px;font-size:6.15px;"> Julidae</div>
<div class="sw" style="left:500.6px;top:57.94px;width:13.2px;height:6.6px;background:#00FF00"></div>
<div class="t lt" style="left:514.2px;top:58.66px;font-size:6.15px;"> Centipede</div>
</div></body></html>
